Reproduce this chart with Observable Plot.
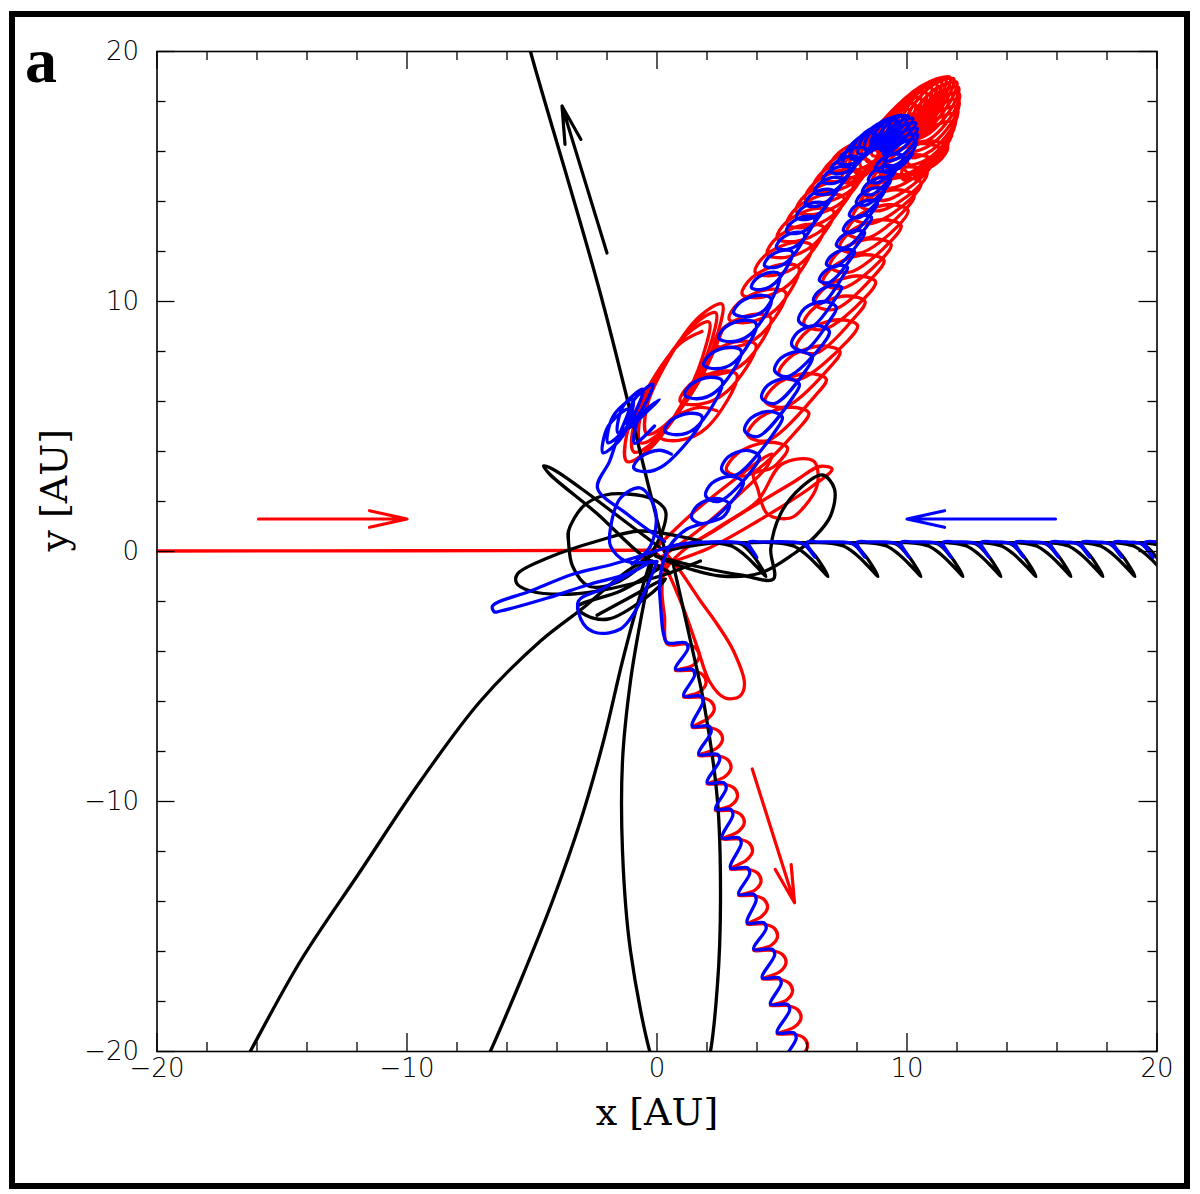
<!DOCTYPE html>
<html><head><meta charset="utf-8">
<script src="https://cdn.jsdelivr.net/npm/d3@7"></script>
<script src="https://cdn.jsdelivr.net/npm/@observablehq/plot@0.6"></script>
<style>
body{margin:0;background:#fff;}
#wrap{position:relative;width:1200px;height:1194px;overflow:hidden;background:#fff;}
#border{position:absolute;left:9px;top:11px;width:1169px;height:1166px;border:6px solid #000;}
#wrap svg{position:absolute;left:0;top:0;}
</style></head>
<body><div id="wrap"><div id="border"></div></div>
<script>
// ---------- axes ----------
const tickValues = [-20,-18,-16,-14,-12,-10,-8,-6,-4,-2,0,2,4,6,8,10,12,14,16,18,20];
const majorTickValues = [-20,-10,0,10,20];
const labelValues = [-20,-10,0,10,20];

// ---------- incoming single (red) along y = 0 ----------
const redIncoming = [[-20.5,0.02],[-10,0.03],[-0.2,0.05]];

// ---------- incoming binary (black + blue) from the right ----------
const blackHookX = [21.3,20.1,18.94,17.62,16.34,15.06,13.66,12.26,10.74,9.06,7.34,5.34,2.86];
const blackHookShape = [[0.6,0.35],[0.0,0.36],[0.5,0.3],[1.0,-0.18],[1.5,-1.0],[1.12,-0.6],[0.6,-0.1],[0.12,0.22],[-0.6,0.35]];
const blueHookX = [21.8,20.6,19.4,18.15,16.87,15.62,14.22,12.84,11.32,9.64,7.88,5.88,3.55];
const blueHookShape = [[0.6,0.38],[0.12,0.37],[0.45,-0.24],[-0.02,0.3],[-0.6,0.38]];

// ---------- black tracks ----------
const blackToCentre = [[2.26,0.35],[1.2,0.2],[0.3,0.0]];
const blackLoopE = [[-0.06,-0.18],[1.6,-0.6],[3.4,-0.95],[4.66,-1.1],[4.55,0.1],[4.94,1.5],[5.74,2.54],[6.62,3.06],[7.1,2.5],[6.94,1.42],[6.34,0.62],[5.46,-0.1],[4.14,-0.86],[2.54,-0.98],[0.94,-0.58],[-0.06,-0.18]];
const blackEllipseA = [[-3.54,0.42],[-3.54,0.82],[-2.94,1.82],[-2.06,2.26],[-1.18,2.3],[-0.18,2.1],[0.34,1.62],[0.14,0.62],[-0.66,-0.58],[-1.78,-1.3],[-2.74,-1.38],[-3.38,-0.58],[-3.54,0.42],[-3.54,0.82]];
const blackEllipseB = [[0.14,0.14],[-1.46,1.34],[-3.06,2.54],[-4.18,3.3],[-4.54,3.42],[-4.3,3.1],[-2.38,1.5],[-0.66,-0.1],[0.54,-0.86]];
const blackEllipseC = [[1.74,0.42],[-0.66,0.82],[-2.38,0.42],[-4.38,-0.26],[-5.58,-0.9],[-5.62,-1.26],[-5.06,-1.58],[-3.34,-1.7],[-1.74,-1.46],[0.14,-0.98],[1.74,-0.38]];
const blackSmallD = [[0.2,-0.6],[-1.46,-1.58],[-3.18,-2.22],[-2.86,-2.54],[-1.94,-2.7],[-0.46,-1.86],[0.34,-1.1],[-1.2,-1.9],[-2.4,-2.55]];
const blackUp = [[0.34,-0.06],[-0.26,2.3],[-2.26,10.3],[-5.06,20.0],[-5.3,21]];
const blackK1 = [[-0.06,-0.06],[-1.46,-0.98],[-2.86,-2.18],[-4.66,-3.58],[-7.06,-5.98],[-9.46,-9.18],[-11.86,-12.78],[-14.26,-16.38],[-16.26,-19.98],[-16.7,-20.8]];
const blackK2 = [[-0.26,-0.38],[-0.74,-1.98],[-1.38,-4.38],[-2.14,-7.58],[-3.06,-10.78],[-4.18,-13.98],[-5.46,-17.18],[-6.66,-19.98],[-7.0,-20.7]];
const blackTallL = [[-0.18,-0.38],[-0.66,-2.78],[-1.06,-5.18],[-1.38,-8.38],[-1.38,-11.98],[-1.06,-15.98],[-0.18,-20.38],[0.3,-21.5]];
const blackTallR = [[0.62,-0.38],[1.34,-3.58],[1.86,-5.98],[2.42,-9.98],[2.54,-13.98],[2.42,-17.3],[2.06,-20.38],[1.6,-21.5]];

// ---------- blue tracks near the centre ----------
const blueToCentre = [[1.8,0.37],[1.0,0.3],[0.2,0.1]];
const blueTipLoop = [[0.2,0.1],[-1.74,-0.5],[-3.34,-0.9],[-5.06,-1.58],[-6.58,-2.18],[-6.5,-2.42],[-6.26,-2.38],[-4.38,-1.86],[-2.66,-1.3],[-1.2,-0.9],[-0.4,-0.5]];
const blueU = [[-0.4,-0.5],[-2.2,-1.5],[-3.14,-1.98],[-2.94,-2.9],[-2.38,-3.26],[-1.46,-3.1],[-0.94,-2.5],[-0.4,-1.4],[0.0,-0.4]];
const blueLoopC = [[0.0,-0.4],[-1.26,-0.38],[-1.86,0.22],[-1.86,0.94],[-1.46,2.14],[-0.66,2.54],[-0.06,1.62],[-0.26,0.22],[-1.0,-0.5]];
const blueDiag = [[0.3,0.4],[-1.2,1.5],[-2.38,2.54],[-1.9,3.6],[-1.66,4.3]];
const blueEarlyCentres = [[-1.66,4.82],[-1.46,5.22],[-1.06,5.62],[-0.66,5.82],[-0.4,5.2]];
const blueEarlyShape = [[0.5,0.87],[-0.3,0.18],[-0.5,-0.87],[0.3,-0.18]];

// ---------- outgoing / returning tongue (blue) ----------
const blueLeftLowCentres = [[-0.18,3.62],[1.06,5.1],[1.86,6.54],[2.62,7.74],[3.22,8.82],[3.82,9.82]];
const blueLeftHighCentres = [[4.34,10.82],[4.86,11.7],[5.34,12.42],[5.74,13.06],[6.14,13.62],[6.5,14.14],[6.86,14.62],[7.18,15.06],[7.5,15.46],[7.82,15.82]];
const blueCapCentres = [[8.1,16.1],[8.4,16.35],[8.7,16.55],[8.95,16.7],[9.2,16.78],[9.42,16.78],[9.6,16.68],[9.72,16.5],[9.78,16.28],[9.78,16.05],[9.7,15.82]];
const blueRightHighCentres = [[9.3,15.55],[9.02,15.1],[8.78,14.62],[8.54,14.2],[8.26,13.7],[8.02,13.1],[7.74,12.5],[7.34,11.74],[7.06,11.1],[6.82,10.3]];
const blueRightLowCentres = [[6.42,9.5],[6.14,8.54],[5.46,7.5],[4.94,6.42],[4.26,5.1],[3.34,3.54],[2.7,2.5],[2.14,1.62]];
const blueLowLeftShape = [[0.752,0.274],[0.269,0.43],[-0.483,0.156],[-0.752,-0.274],[-0.269,-0.43],[0.483,-0.156]];
const blueHighShape = [[0.562,0.262],[0.182,0.343],[-0.38,0.081],[-0.562,-0.262],[-0.182,-0.343],[0.38,-0.081]];
const blueCapShape = [[0.636,0.636],[0.104,0.532],[-0.532,-0.104],[-0.636,-0.636],[-0.104,-0.532],[0.532,0.104]];
// the returning leg is traced the other way round each loop
const blueHighShapeBack = [[-0.182,-0.343],[-0.562,-0.262],[-0.38,0.081],[0.182,0.343],[0.562,0.262],[0.38,-0.081]];
const blueLowRightShapeBack = [[-0.243,-0.503],[-0.752,-0.274],[-0.509,0.229],[0.243,0.503],[0.752,0.274],[0.509,-0.229]];
const blueToHelix = [[1.2,0.9],[0.5,0.2],[0.2,-0.6],[0.1,-1.4],[0.14,-2.1],[0.26,-3.3]];

// ---------- red tracks near the centre ----------
const redBigLoopDown = [[-0.2,0.05],[0.1,-0.2],[0.94,-1.98],[1.6,-3.8],[2.1,-5.2],[2.7,-5.85],[3.3,-5.8],[3.5,-5.3],[3.06,-3.98],[2.4,-2.9],[1.74,-1.98],[0.8,-0.6],[0.2,0.1]];
const redEllipse1 = [[0.2,0.1],[1.5,0.4],[3.5,1.6],[5.5,2.8],[6.5,3.4],[7.0,3.3],[6.2,2.6],[4.0,1.2],[2.0,0.1],[0.0,-0.6]];
const redEllipse2 = [[-0.6,-0.3],[0.0,0.2],[1.5,1.6],[3.0,2.8],[4.2,3.7],[4.6,3.9],[4.4,3.4],[3.2,2.2],[1.6,0.8],[0.2,-0.2]];
const redEarlyCentres = [[0.3,6.2],[0.58,6.58],[0.85,6.95],[1.1,7.3]];
const redEarlyShape = [[1.5,2.6],[0.6,2.1],[-0.65,0.375],[-1.52,-1.57],[-1.5,-2.6],[-0.6,-2.1],[0.65,-0.375],[1.52,1.57]];

// ---------- outgoing / returning tongue (red) ----------
const redLeftCentres = [[1.26,5.1],[2.06,6.54],[2.82,7.74],[3.42,8.82],[4.02,9.82],[4.54,10.82],[5.06,11.7],[5.54,12.42],[5.94,13.06],[6.34,13.62],[6.7,14.14],[7.06,14.62],[7.38,15.06],[7.7,15.46],[8.02,15.82]];
const redLeftShape = [[1.133,0.528],[0.383,0.656],[-0.749,0.128],[-1.133,-0.528],[-0.383,-0.656],[0.749,-0.128]];
const redCapCentres = [[8.42,15.92],[8.66,16.12],[8.9,16.31],[9.13,16.52],[9.36,16.75],[9.58,16.99],[9.8,17.21],[10.01,17.4],[10.21,17.57],[10.4,17.7],[10.58,17.79],[10.75,17.82],[10.9,17.76],[11.02,17.62],[11.09,17.42],[11.11,17.18],[11.09,16.92],[11.03,16.64],[10.93,16.34],[10.8,16.03]];
const redCapShape = [[0.964,1.149],[0.117,0.882],[-0.847,-0.268],[-0.964,-1.149],[-0.117,-0.882],[0.847,0.268]];
const redRightCentres = [[10.4,15.75],[10.1,15.65],[9.82,15.2],[9.58,14.72],[9.34,14.3],[9.06,13.8],[8.82,13.2],[8.54,12.6],[8.14,11.84],[7.86,11.2],[7.52,10.35],[7.1,9.55],[6.8,8.6],[6.1,7.55],[5.55,6.45],[4.85,5.1],[4.0,3.7]];
const redRightShapeBack = [[-0.448,-0.67],[-1.222,-0.445],[-0.774,0.226],[0.448,0.67],[1.222,0.445],[0.774,-0.226]];
const redLoopRight = [[4.5,3.3],[3.86,3.1],[4.02,2.54],[4.42,1.5],[5.34,1.34],[5.9,1.8],[6.42,2.7],[6.26,3.62],[5.0,3.5],[4.0,2.0],[2.5,1.0],[1.0,0.0],[0.3,-0.8],[0.2,-1.6],[0.3,-2.6]];

// ---------- outgoing binary (red + blue) to the bottom ----------
const helixY = [-3.65,-4.71,-5.78,-6.98,-8.11,-9.25,-10.31,-11.45,-12.65,-13.71,-14.85,-15.91,-17.05,-18.11,-19.25,-20.38];
const helixLeft = [0.41,0.74,1.07,1.41,1.67,2.01,2.34,2.61,2.94,3.27,3.61,3.87,4.21,4.54,4.81,5.1];
const helixRight = [1.14,1.41,1.74,2.07,2.41,2.67,2.94,3.27,3.61,3.87,4.27,4.61,4.87,5.21,5.47,5.74];
const blueHelixShape = [["L",0,0],["R",0,0],["R",0.1,-0.22]];
const redHelixShape = [["L",0,-0.05],["R",0,-0.05],["R",0.42,-0.22],["R",0.55,-0.55],["R",0.3,-0.9]];

// ---------- arrows ----------
const arrowFromX = [-2.0,-15.94,15.94,3.81];
const arrowFromY = [11.94,1.3,1.3,-8.7];
const arrowToX = [-3.8,-10.0,10.0,5.5];
const arrowToY = [17.82,1.3,1.3,-14.05];
const arrowColor = ["#000000","#ff0000","#0000ff","#ff0000"];

// ---------- assemble ----------
const hooks = (xs, shape) => xs.flatMap(h => shape.map(([dx, y]) => [h + dx, y]));
const loops = (cs, shape) => cs.flatMap(([cx, cy]) => shape.map(([dx, dy]) => [cx + dx, cy + dy]));
const helix = (shape) => helixY.flatMap((y, i) => shape.map(([a, dx, dy]) => [(a === "L" ? helixLeft[i] : helixRight[i]) + dx, y + dy]));

const segs = [];
const add = (color, pts) => segs.push({color, pts});
add("red", redIncoming);
add("red", redBigLoopDown);
add("red", redEllipse1);
add("red", redEllipse2);
add("red", loops(redEarlyCentres, redEarlyShape));
add("red", [...loops(redLeftCentres, redLeftShape), ...loops(redCapCentres, redCapShape), ...loops(redRightCentres, redRightShapeBack), ...redLoopRight, ...helix(redHelixShape)]);

add("black", [...hooks(blackHookX, blackHookShape), ...blackToCentre]);
add("black", blackLoopE);
add("black", blackEllipseA);
add("black", blackEllipseB);
add("black", blackEllipseC);
add("black", blackSmallD);
add("black", blackUp);
add("black", blackK1);
add("black", blackK2);
add("black", blackTallL);
add("black", blackTallR);

add("blue", [...hooks(blueHookX, blueHookShape), ...blueToCentre, ...blueTipLoop, ...blueU, ...blueLoopC]);
add("blue", [...blueDiag, ...loops(blueEarlyCentres, blueEarlyShape)]);
add("blue", [...loops(blueLeftLowCentres, blueLowLeftShape), ...loops(blueLeftHighCentres, blueHighShape), ...loops(blueCapCentres, blueCapShape),
  ...loops(blueRightHighCentres, blueHighShapeBack), ...loops(blueRightLowCentres, blueLowRightShapeBack), ...blueToHelix, ...helix(blueHelixShape)]);

const rows = segs.flatMap((s, i) => s.pts.map(([x, y]) => ({x, y, seg: i, color: s.color})));
const colorOf = {red: "#ff0000", blue: "#0000ff", black: "#000000"};
const lineFor = c => Plot.line(rows.filter(r => r.color === c), {x: "x", y: "y", z: "seg", stroke: colorOf[c], strokeWidth: 3.3, curve: "catmull-rom", clip: true, strokeLinejoin: "round", strokeLinecap: "round"});

const arrows = arrowFromX.map((x1, i) => ({x1, y1: arrowFromY[i], x2: arrowToX[i], y2: arrowToY[i], c: arrowColor[i]}));
const fmt = d => d < 0 ? "\u2212" + Math.abs(d) : String(d);
const minorLen = 0.36, majorLen = 0.72;
const tlen = d => majorTickValues.includes(d) ? majorLen : minorLen;
const tickStyle = {stroke: "#000", strokeWidth: 1.3};

const chart = Plot.plot({
  width: 1200, height: 1194,
  marginLeft: 156.5, marginRight: 43.5, marginTop: 51, marginBottom: 143,
  x: {domain: [-20, 20], axis: null},
  y: {domain: [-20, 20], axis: null},
  style: {background: "transparent", overflow: "visible"},
  marks: [
    lineFor("red"),
    lineFor("black"),
    lineFor("blue"),
    Plot.arrow(arrows, {x1: "x1", y1: "y1", x2: "x2", y2: "y2", stroke: d => d.c, strokeWidth: 3.2, headLength: 18, headAngle: 25}),
    Plot.ruleX(tickValues, {x: d => d, y1: -20, y2: d => -20 + tlen(d), ...tickStyle}),
    Plot.ruleX(tickValues, {x: d => d, y1: 20, y2: d => 20 - tlen(d), ...tickStyle}),
    Plot.ruleY(tickValues, {y: d => d, x1: -20, x2: d => -20 + tlen(d), ...tickStyle}),
    Plot.ruleY(tickValues, {y: d => d, x1: 20, x2: d => 20 - tlen(d), ...tickStyle}),
    Plot.frame({stroke: "#000", strokeWidth: 1.6}),
    Plot.text(labelValues, {x: d => d, frameAnchor: "bottom", dy: 25, text: fmt, fontSize: 26, fontFamily: "DejaVu Sans", fontWeight: 200, fill: "#000"}),
    Plot.text(labelValues, {y: d => d, frameAnchor: "left", dx: -18, textAnchor: "end", text: fmt, fontSize: 26, fontFamily: "DejaVu Sans", fontWeight: 200, fill: "#000"}),
    Plot.text(["x [AU]"], {frameAnchor: "bottom", dy: 73, text: d => d, fontSize: 38, fontFamily: "DejaVu Serif", fill: "#000"}),
    Plot.text(["y [AU]"], {frameAnchor: "left", dx: -102, rotate: -90, text: d => d, fontSize: 38, fontFamily: "DejaVu Serif", fill: "#000"})
  ]
});
d3.select(chart).append("text").attr("x", 25).attr("y", 82).attr("text-anchor", "start")
  .attr("font-family", "Liberation Serif").attr("font-weight", "bold").attr("font-size", 64).attr("fill", "#000").text("a");
document.getElementById("wrap").appendChild(chart);
</script>
</body></html>
